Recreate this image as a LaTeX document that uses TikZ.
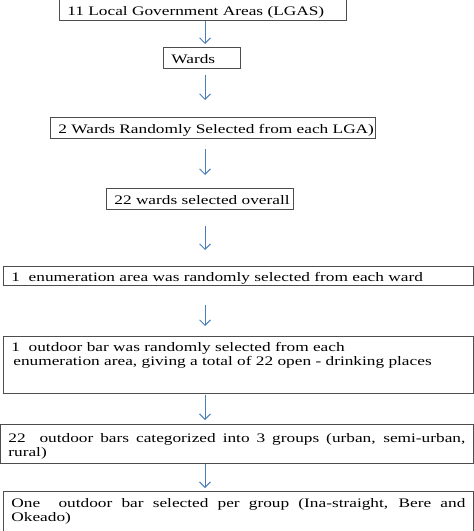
\documentclass[tikz,border=0pt]{standalone}
\usepackage{fontspec}
\setmainfont{Liberation Serif}[FakeStretch=1.33]
\usetikzlibrary{arrows.meta}
\definecolor{flowblue}{HTML}{4A7EBB}
\definecolor{boxgray}{HTML}{4D4D4D}
\hbadness=10000
\hfuzz=40pt

\begin{document}
\begin{tikzpicture}[x=1bp, y=-1bp,
		stage/.style={draw=boxgray, line width=0.8bp, anchor=north west, inner xsep=8bp, inner ysep=0bp,
			text height=16bp, text depth=5bp, align=left, font=\fontsize{13bp}{14bp}\selectfont},
		flow/.style={draw=flowblue, line width=0.9bp, -{Straight Barb[length=5.5bp, width=11bp]}}]
		\useasboundingbox (0,0) rectangle (474,531);
		\coordinate (ax) at (205,0);

		\node[stage, text width=271bp, text height=18bp] (lga) at (59,-3) {\mbox{11 Local Government Areas (LGAS)}};
		\node[stage, text width=61bp] (wards) at (163,47) {\mbox{Wards}};
		\node[stage, text width=309bp] (twowards) at (50,117) {\mbox{2 Wards Randomly Selected from each LGA)}};
		\node[stage, text width=171bp] (overall) at (106,188) {\mbox{22 wards selected overall}};
		\node[stage, text width=454bp, text height=15bp, text depth=4bp] (enum) at (3,266) {\mbox{1~ enumeration area was randomly selected from each ward}};
		\node[stage, text width=454bp, text height=15bp, text depth=42bp] (bar) at (3,336) {1~ outdoor bar was randomly selected from each\\\hspace{2bp}enumeration area, giving a total of 22 open - drinking places};
		\node[stage, text width=457bp, text height=18bp, text depth=21bp, align=justify] (groups) at (0,424) {22~ outdoor bars categorized into 3 groups (urban, semi-urban,\linebreak rural)};
		\node[stage, text width=454bp, text height=16bp, text depth=40bp, align=justify] (pergroup) at (3,491) {One~ outdoor bar selected per group (Ina-straight, Bere and\linebreak Okeado)};

		\draw[flow, shorten >=3bp] (lga.south -| ax) -- (wards.north -| ax);
		\draw[flow, shorten <=6bp, shorten >=17bp] (wards.south -| ax) -- (twowards.north -| ax);
		\draw[flow, shorten <=10bp, shorten >=13bp] (twowards.south -| ax) -- (overall.north -| ax);
		\draw[flow, shorten <=16bp, shorten >=16bp] (overall.south -| ax) -- (enum.north -| ax);
		\draw[flow, shorten <=19bp, shorten >=10bp] (enum.south -| ax) -- (bar.north -| ax);
		\draw[flow, shorten <=1bp, shorten >=4bp] (bar.south -| ax) -- (groups.north -| ax);
		\draw[flow, shorten >=3bp] (groups.south -| ax) -- (pergroup.north -| ax);
	\end{tikzpicture}
\end{document}
